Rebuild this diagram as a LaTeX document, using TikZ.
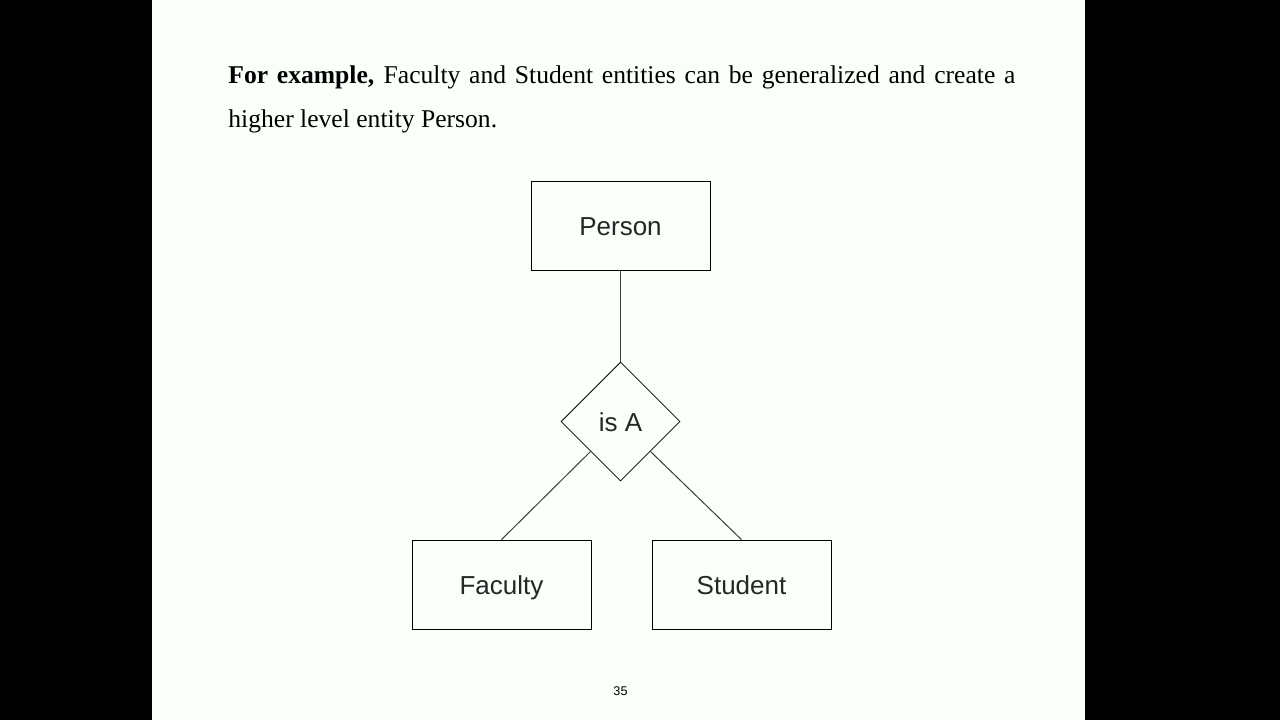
\documentclass[tikz,border=0pt]{standalone}
\usepackage{fontspec}
\setmainfont{Liberation Serif}
\setsansfont{Liberation Sans}
\usetikzlibrary{shapes.geometric}
\definecolor{pagewhite}{RGB}{250,255,250}
\definecolor{darkline}{RGB}{60,60,60}
\newcommand{\widthentity}{89.5pt}
\newcommand{\heightentity}{44.5pt}
\newcommand{\sizerelation}{59.5pt}
\tikzset{
    common/.style={draw, font=\sffamily\fontsize{13}{13}\selectfont, text=black!85, text height=12.4pt, text depth=2.6pt},
    entity/.style={common, rectangle, minimum width=\widthentity, minimum height=\heightentity},
    relation/.style={common, diamond, aspect=1, inner sep=0pt, minimum size=\sizerelation},
    link/.style={darkline, line width=0.5pt},
}
\begin{document}
\begin{tikzpicture}[x=0.5pt, y=-0.5pt]
            % slide background
            \fill[black] (0,0) rectangle (1280,720);
            \fill[pagewhite] (152,0) rectangle (1085,720);
            \useasboundingbox (0,0) rectangle (1280,720);

            \node[anchor=north west, inner sep=0pt, text width=393.5pt, align=justify,
                  font=\fontsize{12.8}{22}\selectfont] (intro) at (228,65)
                {\textbf{For example,} Faculty and Student entities can be generalized and create a higher level entity Person.};

            \path
                (620.5,225.5) node[entity] (person) {Person}
                +(0,196) node[relation] (is-a) {is A}
                +(-119,359) node[entity] (faculty) {Faculty}
                +(121,359) node[entity] (student) {Student};

            \draw[link] (person) -- (is-a);
            \draw[link] (is-a.south west) -- (faculty.north);
            \draw[link] (is-a.south east) -- (student.north);

            \node[font=\sffamily\fontsize{6.3}{6.3}\selectfont] (page) at (620.5,691) {35};
          \end{tikzpicture}
\end{document}
